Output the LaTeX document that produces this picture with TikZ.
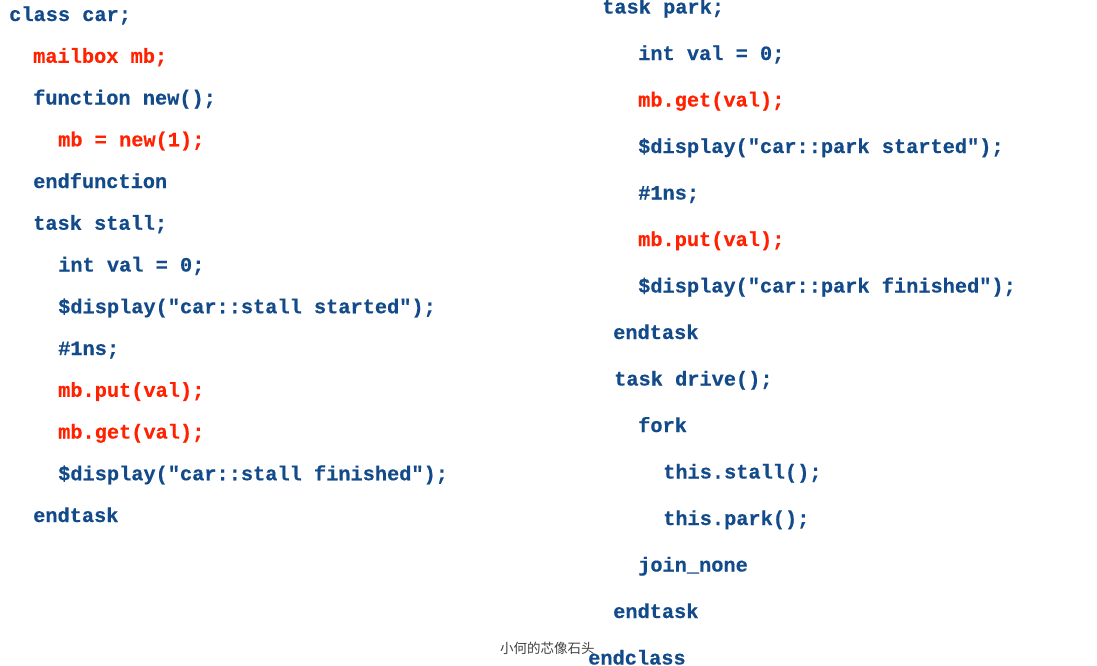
\documentclass[tikz,border=0pt]{standalone}
\usepackage{fontspec}
\setmonofont[BoldFeatures={FakeBold=0.4}]{Liberation Mono}
\newfontfamily\cjk{Noto Sans CJK SC}
\usepackage{tikz}
\usetikzlibrary{positioning}
\definecolor{cblue}{rgb}{0.07, 0.29, 0.54}
\definecolor{cred}{rgb}{1, 0.13, 0}
\definecolor{mgray}{rgb}{0.25, 0.25, 0.25}
\tikzset{code/.style = {anchor=base west, inner sep=0pt,
                        font=\ttfamily\bfseries\fontsize{20.3}{24}\selectfont},
         kw/.style = {code, text=cblue},
         mb/.style = {code, text=cred}}

\begin{document}
\begin{tikzpicture}[x=1pt, y=-1pt]
    \useasboundingbox (0, 0) rectangle (1097, 665);

    % class car, left column
    \begin{scope}
      \node [kw] (cls)     at (9, 21)      {class car;};
      \node [mb] (mbdecl)  at (33, 62.75)  {mailbox mb;};
      \node [kw] (fnew)    at (33, 104.5)  {function new();};
      \node [mb] (mbnew)   at (58, 146.25) {mb = new(1);};
      \node [kw] (endfn)   at (33, 188)    {endfunction};
      \node [kw] (tstall)  at (33, 229.75) {task stall;};
      \node [kw] (sval)    at (58, 271.5)  {int val = 0;};
      \node [kw] (sstart)  at (58, 313.25) {\$display("car::stall started");};
      \node [kw] (sdelay)  at (58, 355)    {\#1ns;};
      \node [mb] (sput)    at (58, 396.75) {mb.put(val);};
      \node [mb] (sget)    at (58, 438.5)  {mb.get(val);};
      \node [kw] (sfin)    at (58, 480.25) {\$display("car::stall finished");};
      \node [kw] (sendt)   at (33, 522)    {endtask};
    \end{scope}

    % task park, task drive, right column
    \begin{scope}
      \node [kw] (tpark)   at (602, 13.5)  {task park;};
      \node [kw] (pval)    at (638, 60)    {int val = 0;};
      \node [mb] (pget)    at (638, 106.5) {mb.get(val);};
      \node [kw] (pstart)  at (638, 153)   {\$display("car::park started");};
      \node [kw] (pdelay)  at (638, 199.5) {\#1ns;};
      \node [mb] (pput)    at (638, 246)   {mb.put(val);};
      \node [kw] (pfin)    at (638, 292.5) {\$display("car::park finished");};
      \node [kw] (pendt)   at (613, 339)   {endtask};
      \node [kw] (tdrive)  at (614, 385.5) {task drive();};
      \node [kw] (fork)    at (638, 432)   {fork};
      \node [kw] (cstall)  at (663, 478.5) {this.stall();};
      \node [kw] (cpark)   at (663, 525)   {this.park();};
      \node [kw] (join)    at (638, 571.5) {join\_none};
      \node [kw] (dendt)   at (613, 618)   {endtask};
      \node [kw] (endcls)  at (588, 664.5) {endclass};
    \end{scope}

    \node [anchor=west, inner sep=0pt, text=mgray, font=\cjk\fontsize{13.5}{15}\selectfont]
      (mark) at (500, 648) {小何的芯像石头};
\end{tikzpicture}
\end{document}
